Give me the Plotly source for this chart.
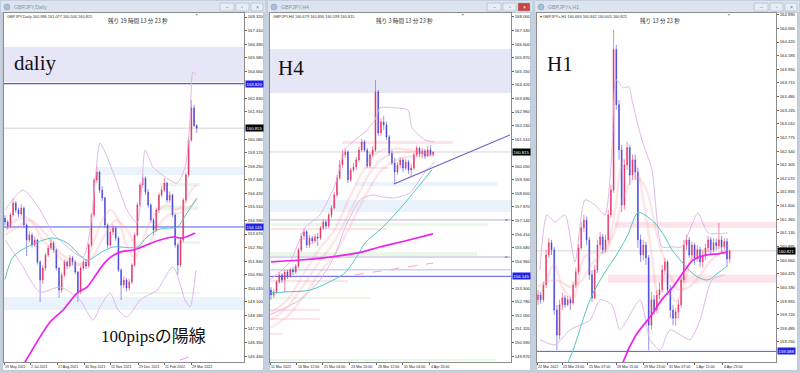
import plotly.graph_objects as go

# ======================= DATA =======================
# ---- Daily (GBPJPY,Daily) ----
daily_open = [154.75,154.48,154.21,154.95,155.76,155.29,155.02,155.42,154.28,153.26,
              153.60,152.93,153.26,151.78,150.56,151.37,152.25,152.72,153.06,152.59,
              151.37,149.89,150.90,151.78,151.51,152.05,151.78,151.10,149.75,151.37,
              151.78,151.51,152.93,154.95,157.31,157.85,156.64,156.10,154.28,152.93,
              153.80,154.07,153.40,151.24,150.23,150.56,150.02,150.43,151.58,153.60,
              155.63,156.98,157.45,156.50,155.63,154.61,153.94,155.29,156.30,156.64,
              157.11,155.96,156.30,154.95,152.93,151.58,153.26,155.96,157.65,160.02,
              162.18,160.99]
daily_high = [154.95,154.62,155.10,156.10,155.90,155.45,155.70,155.55,154.40,153.85,
              153.75,153.50,153.35,151.90,151.55,152.40,152.90,153.40,153.20,152.70,
              151.45,151.05,151.95,151.90,152.25,152.20,151.90,151.20,151.50,151.95,
              151.90,153.05,155.10,157.45,158.26,157.95,156.90,156.20,154.40,154.00,
              154.30,154.20,153.50,151.35,150.80,150.70,150.65,151.70,153.75,155.80,
              157.15,157.70,157.55,156.70,155.75,154.75,155.45,156.45,156.90,157.45,
              157.20,156.55,156.40,155.05,153.05,153.40,156.10,157.80,160.20,162.72,
              162.40,161.08]
daily_low = [154.25,153.98,154.10,154.85,155.10,154.80,154.90,154.10,152.18,153.10,
             152.75,152.80,151.60,149.08,150.30,151.20,152.10,152.60,152.40,151.20,
             149.35,149.70,150.75,151.30,151.40,151.55,150.95,149.08,149.60,151.20,
             151.30,151.40,152.80,154.80,157.10,156.45,155.90,154.10,152.70,152.80,
             153.60,153.20,151.10,149.21,150.00,149.80,149.85,150.30,151.45,153.50,
             155.50,156.80,156.30,155.45,154.45,153.60,153.80,155.10,156.15,156.50,
             155.80,155.80,154.80,152.75,150.90,151.45,153.10,155.80,157.50,159.90,
             160.90,160.50]
daily_close = [154.48,154.21,154.95,155.76,155.29,155.02,155.42,154.28,153.26,153.60,
               152.93,153.26,151.78,150.56,151.37,152.25,152.72,153.06,152.59,151.37,
               149.89,150.90,151.78,151.51,152.05,151.78,151.10,149.75,151.37,151.78,
               151.51,152.93,154.95,157.31,157.85,156.64,156.10,154.28,152.93,153.80,
               154.07,153.40,151.24,150.23,150.56,150.02,150.43,151.58,153.60,155.63,
               156.98,157.45,156.50,155.63,154.61,153.94,155.29,156.30,156.64,157.11,
               155.96,156.30,154.95,152.93,151.58,153.26,155.96,157.65,160.02,162.18,
               160.99,160.82]
daily_date_labels = ["19 May 2021", "2 Jul 2021", "17 Aug 2021", "30 Sep 2021",
                     "15 Nov 2021", "29 Dec 2021", "11 Feb 2022", "29 Mar 2022"]
daily_date_pos = [-0.37, 9.3, 19.3, 29.3, 38.9, 49.3, 58.9, 68.9]
daily_price_ticks = [168.320, 167.410, 166.490, 165.580, 164.660, 162.830, 161.910,
                     160.080, 159.170, 158.250, 157.340, 156.420, 155.510, 154.590,
                     153.670, 152.760, 151.840, 150.930, 150.010, 149.100, 148.180, 147.270,
                     146.350, 145.430]
daily_ma_slow_x = [5.5, 7.4, 16.7, 21.5, 26.7, 30.4, 34.1, 37.8, 42.6, 47.4, 56.3, 62.2, 65.6, 70.4]
daily_ma_slow_y = [144.50, 145.03, 147.73, 148.54, 149.68, 150.09, 151.03, 151.91, 152.45, 152.59,
                   153.20, 153.47, 153.40, 153.74]
daily_ma_mid_x = [0, 3.0, 8.1, 17.8, 23.0, 30.4, 35.2, 40.0, 48.9, 52.6, 56.3, 60.0, 63.7, 67.4, 71.1]
daily_ma_mid_y = [150.60, 152.12, 152.79, 153.40, 153.06, 151.91, 152.39, 152.79, 152.79, 153.47,
                  153.94, 154.07, 154.14, 155.09, 156.10]
daily_bb_up_x = [0, 6.7, 13, 17.8, 23, 28.9, 31.5, 33.3, 35.2, 37.8, 41.5, 45.2, 48.9, 50.7, 51.9,
                 54.8, 59.3, 63.7, 66.7, 68.5, 69.6, 70.7]
daily_bb_up_y = [155.29, 156.64, 155.29, 153.74, 152.79, 152.12, 153.94, 157.11, 159.81, 158.87,
                 157.11, 155.29, 154.41, 156.98, 159.34, 158.19, 157.52, 157.11, 158.19, 161.37,
                 164.61, 164.40]
daily_bb_lo_x = [0, 5.6, 13, 20.4, 27.8, 32.6, 35.2, 38.9, 41.9, 45.2, 50, 56.3, 62.2, 66.7, 68.5, 70.7]
daily_bb_lo_y = [153.26, 151.78, 149.75, 150.09, 149.21, 147.86, 148.74, 149.68, 148.54, 148.07,
                 149.21, 149.89, 151.44, 149.21, 148.74, 151.24]
daily_rib1_x = [0, 4, 7, 10, 14, 18, 22, 26, 30, 33, 36, 39, 42, 45, 48, 51, 54, 57, 60, 63, 66, 69, 71]
daily_rib1_y = [153.94, 154.61, 154.80, 154.48, 153.26, 152.59, 151.78, 151.58, 151.78, 153.26,
                154.61, 155.29, 154.61, 152.93, 152.05, 153.26, 154.61, 155.29, 155.63, 155.29,
                155.63, 156.64, 156.98]
daily_rib2_x = [0, 5, 9, 13, 17, 21, 25, 29, 33, 37, 41, 45, 49, 53, 57, 61, 65, 69, 71]
daily_rib2_y = [153.60, 154.20, 154.60, 154.10, 153.20, 152.30, 151.80, 151.60, 152.30, 153.60,
                154.60, 154.00, 152.80, 153.00, 154.30, 155.00, 155.10, 155.60, 156.00]

# ---- H4 (GBPJPY,H4) ----
h4_open = [153.41,153.15,153.31,153.84,154.22,153.95,154.38,154.17,154.49,154.38,
           154.70,155.56,156.31,156.53,155.83,156.20,156.04,156.26,156.20,156.74,
           157.06,156.85,157.44,157.81,158.51,159.42,160.12,160.66,160.82,159.32,
           159.85,160.01,160.39,160.92,161.35,160.92,160.07,160.66,160.92,164.04,
           161.84,162.43,162.27,161.62,160.76,160.23,159.74,160.12,160.39,159.96,
           160.28,159.85,159.96,160.66,161.03,160.71,160.87,160.60,160.92,160.68]
h4_high = [153.57,153.47,153.95,154.38,154.33,154.49,154.49,154.59,154.65,154.81,
           155.67,156.47,156.69,156.63,156.36,156.31,156.42,156.47,156.85,157.22,
           157.17,157.55,157.97,158.67,159.58,160.39,160.92,161.03,160.92,159.96,
           160.23,160.55,161.09,161.52,161.46,161.03,160.82,161.14,164.68,164.14,
           162.64,162.75,162.43,161.73,160.92,160.50,160.28,160.55,160.50,160.44,
           160.39,160.17,160.76,161.14,161.09,161.03,160.98,161.14,161.19,160.84]
h4_low = [152.88,152.98,153.20,153.74,153.79,153.31,154.00,154.06,154.22,154.27,
          154.59,155.45,156.10,155.67,155.67,155.88,155.94,155.77,156.10,156.63,
          156.69,156.74,157.28,157.71,158.40,159.32,159.96,160.50,159.15,159.21,
          159.74,159.85,160.28,160.82,160.82,159.96,159.96,160.55,160.82,161.68,
          161.68,162.00,161.46,160.60,160.12,159.15,159.58,159.96,159.74,159.85,
          159.64,159.48,159.85,160.55,160.55,160.50,160.44,160.55,160.60,160.60]
h4_close = [153.15,153.31,153.84,154.22,153.95,154.38,154.17,154.49,154.38,154.70,
            155.56,156.31,156.53,155.83,156.20,156.04,156.26,156.20,156.74,157.06,
            156.85,157.44,157.81,158.51,159.42,160.12,160.66,160.82,159.32,159.85,
            160.01,160.39,160.92,161.35,160.92,160.07,160.66,160.92,164.04,161.84,
            162.43,162.27,161.62,160.76,160.23,159.74,160.12,160.39,159.96,160.28,
            159.85,159.96,160.66,161.03,160.71,160.87,160.60,160.92,160.68,160.82]
h4_date_labels = ["11 Mar 2022", "16 Mar 12:00", "21 Mar 04:00", "23 Mar 20:00",
                  "28 Mar 12:00", "31 Mar 04:00", "4 Apr 20:00"]
h4_date_pos = [-0.36, 9.45, 18.9, 28.7, 38.5, 48.0, 57.8]
h4_price_ticks = [168.060, 167.330, 166.600, 165.870, 165.150, 164.420, 163.690, 162.960,
                  162.240, 161.510, 160.050, 159.330, 158.600, 157.870, 157.140,
                  156.410, 155.680, 154.960, 153.500, 152.780, 152.050, 151.320,
                  150.590, 149.870]
h4_ma_slow_x = [0, 10.5, 21.5, 31.6, 39.6, 48.7, 58.9]
h4_ma_slow_y = [154.92, 155.02, 155.18, 155.40, 155.72, 156.04, 156.42]
h4_ma_mid_x = [0, 5.1, 14.2, 23.3, 26.9, 31.6, 34.2, 40.4, 48.7, 58.5]
h4_ma_mid_y = [153.25, 153.31, 153.41, 154.00, 154.33, 155.29, 155.94, 156.74, 158.08, 159.85]
h4_bb_up_x = [-0.4, 6.9, 12.4, 17.8, 23.3, 26.9, 30.5, 34.2, 37.8, 39.6, 45.1, 49.8, 51.3, 56, 59.6]
h4_bb_up_y = [153.95, 154.92, 156.74, 157.44, 159.05, 160.92, 161.46, 161.89, 162.53, 163.18,
              163.18, 163.07, 162.10, 161.46, 161.35]
h4_bb_lo_x = [-0.4, 10.5, 17.8, 23.3, 26.9, 32.4, 36.7, 40.7, 45.1, 50.5, 56, 59.6]
h4_bb_lo_y = [152.07, 152.88, 153.95, 155.29, 156.74, 158.24, 158.51, 158.40, 158.35, 158.62,
              159.74, 160.28]
h4_rib_x = [0, 6, 12, 18, 23, 28, 32, 36, 40, 46, 52, 59]
h4_rib1_y = [152.2, 152.9, 154.3, 155.7, 156.6, 158.2, 159.4, 160.4, 160.9, 161.0, 160.9, 160.7]
h4_rib2_y = [151.8, 152.5, 153.7, 155.0, 156.0, 157.4, 158.6, 159.7, 160.4, 160.8, 160.8, 160.7]
h4_rib3_y = [151.4, 152.0, 153.1, 154.4, 155.3, 156.6, 157.8, 158.9, 159.8, 160.4, 160.6, 160.6]
h4_trend_x = [44.7, 86.9]
h4_trend_y = [159.10, 161.73]

# ---- H1 (GBPJPYs,H1) ----
h1_open = [159.98,160.06,159.98,160.23,160.75,160.96,160.84,159.80,159.37,159.89,
           160.01,159.89,159.98,159.92,160.23,160.46,160.87,161.22,161.35,161.01,
           160.41,160.01,160.49,160.92,161.06,160.84,161.01,161.44,161.87,164.29,
           163.34,162.56,161.61,162.30,162.60,162.13,162.39,162.18,161.01,160.75,
           160.92,160.70,159.54,159.98,159.80,160.06,160.15,160.49,160.63,160.15,
           159.80,159.66,159.77,159.89,160.32,160.92,161.01,160.75,160.92,160.70,
           160.84,160.63,160.75,160.87,161.01,160.84,160.96,160.91,161.01,160.89,
           160.98,160.68]
h1_high = [160.15,160.11,160.29,160.84,161.04,161.01,160.89,159.89,159.98,160.10,
           160.06,160.04,160.03,160.29,160.53,160.94,161.32,161.44,161.41,161.06,
           160.49,160.58,161.01,161.15,161.11,161.10,161.53,161.96,164.63,164.37,
           163.42,162.65,162.39,162.70,162.65,162.48,162.48,162.25,161.10,161.01,
           160.98,160.75,160.11,160.06,160.15,160.27,160.58,160.70,160.66,160.23,
           159.89,159.84,159.98,160.39,161.01,161.10,161.06,160.98,160.96,160.92,
           160.89,160.84,160.94,161.08,161.06,161.04,161.03,161.30,161.08,161.04,
           161.04,160.84]
h1_low = [159.89,159.91,159.94,160.18,160.70,160.75,159.72,159.11,159.29,159.80,
          159.84,159.87,159.80,159.89,160.18,160.41,160.84,161.15,160.92,160.32,
          159.94,159.98,160.44,160.84,160.77,160.79,160.96,161.39,161.82,163.25,
          162.39,161.49,161.53,162.22,161.96,162.04,162.04,160.87,160.63,160.66,
          160.58,159.11,159.46,159.72,159.75,159.98,160.10,160.41,160.06,159.66,
          159.54,159.53,159.66,159.84,160.27,160.84,160.70,160.66,160.58,160.63,
          160.54,160.53,160.66,160.80,160.77,160.80,160.84,160.85,160.80,160.84,
          160.54,160.61]
h1_close = [160.06,159.98,160.23,160.75,160.96,160.84,159.80,159.37,159.89,160.01,
            159.89,159.98,159.92,160.23,160.46,160.87,161.22,161.35,161.01,160.41,
            160.01,160.49,160.92,161.06,160.84,161.01,161.44,161.87,164.29,163.34,
            162.56,161.61,162.30,162.60,162.13,162.39,162.18,161.01,160.75,160.92,
            160.70,159.54,159.98,159.80,160.06,160.15,160.49,160.63,160.15,159.80,
            159.66,159.77,159.89,160.32,160.92,161.01,160.75,160.92,160.70,160.84,
            160.63,160.75,160.87,161.01,160.84,160.96,160.91,161.01,160.89,160.98,
            160.68,160.82]
h1_date_labels = ["22 Mar 2022", "23 Mar 23:00", "25 Mar 07:00", "28 Mar 15:00",
                  "29 Mar 23:00", "31 Mar 07:00", "1 Apr 15:00", "4 Apr 23:00"]
h1_date_pos = [-0.37, 8.9, 18.5, 28.9, 38.9, 48.1, 58.1, 68.5]
h1_price_ticks = [164.890, 164.655, 164.420, 164.185, 163.950, 163.715, 163.480, 163.245,
                  163.010, 162.775, 162.540, 162.305, 162.070, 161.835, 161.600, 161.365,
                  161.130, 160.895, 160.660, 160.425, 160.190, 159.955, 159.720, 159.485,
                  159.250]
h1_ma_slow_x = [30.0, 31.5, 36.3, 41.5, 45.9, 50, 54.4, 57.4, 62.6, 66.7, 70]
h1_ma_slow_y = [158.60, 158.90, 159.37, 159.68, 159.98, 160.20, 160.49, 160.66, 160.75, 160.77, 160.80]
h1_ma_mid_x = [11.1, 13, 19.3, 23.7, 29.6, 33.3, 37, 39.6, 43.3, 47, 49.6, 53.3, 57, 60, 63, 66.7, 70]
h1_ma_mid_y = [158.90, 159.11, 159.98, 160.37, 160.79, 161.10, 161.48, 161.44, 161.30, 161.06,
               160.84, 160.63, 160.44, 160.35, 160.32, 160.44, 160.56]
h1_bb_up_x = [0.7, 3.3, 6.3, 10, 13.7, 17.4, 21.1, 24.8, 27.4, 28.9, 31.5, 33.7, 34.8, 38.5, 42.2,
              45.9, 49.6, 53.3, 59.2, 63, 70.4]
h1_bb_up_y = [160.49, 161.44, 161.32, 161.44, 160.63, 161.70, 161.61, 161.44, 162.56, 163.77,
              163.63, 163.65, 163.42, 162.73, 162.22, 160.89, 160.89, 160.89, 161.47, 161.13, 161.13]
h1_bb_lo_x = [0.7, 6.3, 11.9, 19.3, 23, 27.4, 30.4, 37.8, 41.5, 45.2, 48.9, 56.3, 60, 64.4, 69.3]
h1_bb_lo_y = [159.29, 159.20, 159.46, 159.63, 159.98, 159.89, 159.46, 159.98, 159.29, 159.11,
              159.46, 159.29, 159.63, 160.32, 160.41]
h1_rib1_x = [0, 3, 6, 9, 13, 17, 21, 25, 28.5, 32, 36, 39, 42, 45, 48, 51, 54, 57, 61, 65, 69, 71]
h1_rib1_y = [160.0, 160.3, 160.6, 160.2, 160.0, 160.7, 160.8, 160.8, 161.5, 162.4, 162.3, 161.7,
             160.8, 160.0, 160.1, 159.95, 160.2, 160.7, 160.8, 160.85, 160.9, 160.9]
h1_rib2_x = [0, 4, 8, 12, 16, 20, 24, 28, 32, 36, 40, 44, 48, 52, 56, 60, 64, 68, 71]
h1_rib2_y = [160.2, 160.3, 160.3, 160.2, 160.3, 160.6, 160.8, 161.1, 161.8, 162.1, 161.9, 161.1,
             160.5, 160.15, 160.2, 160.4, 160.65, 160.8, 160.85]

# ======================= STYLE / LAYOUT =======================
FW, FH = 800, 373
def fx(p): return p / FW
def fy(p): return 1 - p / FH

RED = "#e52a5e"
BLUE = "#3d3ddf"
MAGENTA = "#f020f0"
TEAL = "#52c8bd"
PLUM = "#dcb0e6"
RIB = "rgba(250,140,150,0.22)"
LAV = "#e6e6f7"
LBLUE = "#eaf3fc"
LGREEN = "#e9f7e9"
LPINK = "#fde3ea"
HBLUE = "#5555ee"
TICKF = dict(family="Liberation Sans", size=4.2, color="#222")
DATEF = dict(family="Liberation Sans", size=3.6, color="#222")

fig = go.Figure()
shapes = []
annotations = []

def rect_px(x0, y0, x1, y1, fill, line=None, lw=0):
    shapes.append(dict(type="rect", xref="paper", yref="paper", x0=fx(x0), x1=fx(x1),
                       y0=fy(y1), y1=fy(y0), fillcolor=fill,
                       line=dict(color=line or fill, width=lw), layer="below"))

def text_px(x, y, t, size, color="#222", anchor="left", family="Liberation Sans", **kw):
    annotations.append(dict(xref="paper", yref="paper", x=fx(x), y=fy(y), text=t,
                            showarrow=False, xanchor=anchor, yanchor="middle",
                            font=dict(family=family, size=size, color=color), **kw))

# ---- window chrome ----
def window(x0, x1, title, red_close):
    rect_px(x0, 0, x1, FH, "#c4d0dd")
    rect_px(x0 + 1, 1, x1 - 1, 12, "#dce5ef")
    rect_px(x0 + 2.5, 12.5, x1 - 2.5, 370.5, "white", "#a9b5c3", 0.6)
    for i, (b0, b1) in enumerate([(x1 - 46, x1 - 32), (x1 - 30, x1 - 17), (x1 - 15, x1 - 3)]):
        col = "#c8463c" if (red_close and i == 2) else "#e6edf5"
        rect_px(b0, 3, b1, 11, col, "#9aa8b8", 0.5)
        text_px((b0 + b1) / 2, 7, ["–", "▫", "×"][i], 5,
                "white" if (red_close and i == 2) else "#6a7888", anchor="center")
    shapes.append(dict(type="circle", xref="paper", yref="paper", x0=fx(x0 + 4), x1=fx(x0 + 10),
                       y0=fy(10), y1=fy(4), fillcolor="#a9bfd8", line=dict(color="#7d97b5", width=0.5),
                       layer="below"))
    text_px(x0 + 12, 6.5, title, 5.2, "#8593a4")

window(0, 266, "GBPJPY,Daily", False)
window(267, 533, "GBPJPY,H4", True)
window(534, 800, "GBPJPYs,H1", False)

panels = [
    dict(xa="x", ya="y", px0=4, px1=244, xr=[-0.37, 88.5], yr=[145.03, 168.59],
         o=daily_open, h=daily_high, l=daily_low, c=daily_close,
         ticks=daily_price_ticks, dl=daily_date_labels, dp=daily_date_pos),
    dict(xa="x2", ya="y2", px0=270, px1=511, xr=[-0.36, 87.3], yr=[149.55, 168.27],
         o=h4_open, h=h4_high, l=h4_low, c=h4_close,
         ticks=h4_price_ticks, dl=h4_date_labels, dp=h4_date_pos),
    dict(xa="x3", ya="y3", px0=537, px1=776, xr=[-0.37, 88.15], yr=[158.905, 164.92],
         o=h1_open, h=h1_high, l=h1_low, c=h1_close,
         ticks=h1_price_ticks, dl=h1_date_labels, dp=h1_date_pos),
]

def line(p, xs, ys, color, width, dash="solid", smooth=0.9):
    fig.add_trace(go.Scatter(x=xs, y=ys, mode="lines", xaxis=p["xa"], yaxis=p["ya"],
                             line=dict(color=color, width=width, dash=dash, shape="spline",
                                       smoothing=smooth),
                             hoverinfo="skip", showlegend=False))

def zone(p, f0, f1, y0, y1, color):
    shapes.append(dict(type="rect", xref=p["xa"] + " domain", yref=p["ya"], x0=f0, x1=f1,
                       y0=y0, y1=y1, fillcolor=color, line=dict(width=0), layer="below"))

def hline(p, y, color, width, f0=0, f1=1, dash="solid"):
    shapes.append(dict(type="line", xref=p["xa"] + " domain", yref=p["ya"], x0=f0, x1=f1,
                       y0=y, y1=y, line=dict(color=color, width=width, dash=dash), layer="below"))

def price_box(p, y, t, bg):
    annotations.append(dict(xref="paper", yref=p["ya"], x=fx(p["px1"] + 1), y=y, text=t,
                            showarrow=False, xanchor="left", yanchor="middle", bgcolor=bg,
                            borderpad=0.6, font=dict(family="Liberation Sans", size=4.2, color="white")))

D, H4, H1 = panels

# ---- zones and levels ----
zone(D, 0, 1, 163.93, 166.29, LAV)
zone(D, 0.3875, 1, 157.65, 158.19, LBLUE)
zone(D, 0, 1, 148.54, 149.41, LBLUE)
zone(D, 0.65, 0.817, 156.90, 157.11, LGREEN)
zone(D, 0.65, 0.81, 155.29, 155.56, LGREEN)
zone(D, 0.72, 0.817, 153.00, 153.20, LGREEN)
zone(D, 0.525, 0.817, 149.62, 149.75, LGREEN)
hline(D, 163.82, HBLUE, 1.2)
hline(D, 160.815, "#c9c9c9", 0.8)
hline(D, 154.145, HBLUE, 1.0)

zone(H4, 0, 1, 163.98, 166.34, LAV)
zone(H4, 0.299, 0.759, 161.25, 161.41, LPINK)
zone(H4, 0.394, 0.49, 159.90, 160.01, LPINK)
zone(H4, 0.353, 0.942, 158.99, 159.21, LBLUE)
zone(H4, 0, 1, 157.60, 158.24, LBLUE)
zone(H4, 0.004, 0.905, 156.85, 157.01, LGREEN)
zone(H4, 0.004, 0.485, 156.63, 156.74, LPINK)
zone(H4, 0, 0.859, 155.24, 155.45, LGREEN)
zone(H4, 0, 0.324, 153.84, 153.95, LPINK)
zone(H4, 0, 0.415, 152.93, 153.04, LGREEN)
zone(H4, 0, 0.207, 152.28, 152.39, LPINK)
zone(H4, 0, 0.207, 151.80, 151.91, LPINK)
zone(H4, 0, 0.05, 151.00, 151.11, LPINK)
zone(H4, 0, 0.942, 149.60, 149.71, LGREEN)
hline(H4, 160.815, "#c9c9c9", 0.8)
hline(H4, 157.17, "#a9a9cf", 0.9)
hline(H4, 155.18, "#a9a9cf", 0.9)
hline(H4, 154.49, "#b4b4ea", 0.9)
hline(H4, 154.145, HBLUE, 1.0)
hline(H4, 157.17, "#6d6dc0", 1.0, 0.975, 0.995, "dot")
hline(H4, 155.18, "#6d6dc0", 1.0, 0.975, 0.995, "dot")

zone(H1, 0.326, 1, 161.22, 161.32, LPINK)
zone(H1, 0.297, 1, 160.27, 160.41, LPINK)
hline(H1, 160.821, "#c9c9c9", 0.8)
hline(H1, 159.088, HBLUE, 1.0)

# ---- ribbons (under candles) ----
line(D, daily_rib1_x, daily_rib1_y, RIB, 2.5)
line(D, daily_rib2_x, daily_rib2_y, RIB, 2.5)
line(H4, h4_rib_x, h4_rib1_y, RIB, 2.5)
line(H4, h4_rib_x, h4_rib2_y, RIB, 2.5)
line(H4, h4_rib_x, h4_rib3_y, RIB, 2.5)
line(H1, h1_rib1_x, h1_rib1_y, RIB, 2.5)
line(H1, h1_rib2_x, h1_rib2_y, RIB, 2.5)

# ---- candles ----
for p in panels:
    fig.add_trace(go.Candlestick(
        x=list(range(len(p["c"]))), open=p["o"], high=p["h"], low=p["l"], close=p["c"],
        xaxis=p["xa"], yaxis=p["ya"], whiskerwidth=0,
        increasing=dict(line=dict(color=RED, width=0.55), fillcolor=RED),
        decreasing=dict(line=dict(color=BLUE, width=0.55), fillcolor=BLUE),
        hoverinfo="skip", showlegend=False))

# ---- indicator lines ----
line(D, daily_bb_up_x, daily_bb_up_y, PLUM, 0.9, smooth=0.7)
line(D, daily_bb_lo_x, daily_bb_lo_y, PLUM, 0.9, smooth=0.7)
line(D, daily_ma_mid_x, daily_ma_mid_y, TEAL, 1.0)
line(D, daily_ma_slow_x, daily_ma_slow_y, MAGENTA, 1.7)
line(H4, h4_bb_up_x, h4_bb_up_y, PLUM, 0.9, smooth=0.6)
line(H4, h4_bb_lo_x, h4_bb_lo_y, PLUM, 0.9, smooth=0.6)
line(H4, h4_ma_mid_x, h4_ma_mid_y, TEAL, 1.0)
line(H4, h4_ma_slow_x, h4_ma_slow_y, MAGENTA, 1.7)
line(H1, h1_bb_up_x, h1_bb_up_y, PLUM, 0.9, smooth=0.6)
line(H1, h1_bb_lo_x, h1_bb_lo_y, PLUM, 0.9, smooth=0.6)
line(H1, h1_ma_mid_x, h1_ma_mid_y, TEAL, 1.0)
line(H1, h1_ma_slow_x, h1_ma_slow_y, MAGENTA, 1.7)

# drawn objects
shapes.append(dict(type="line", xref="x2", yref="y2", x0=h4_trend_x[0], x1=h4_trend_x[1],
                   y0=h4_trend_y[0], y1=h4_trend_y[1], line=dict(color="#6464cc", width=1.2)))
shapes.append(dict(type="line", xref="x2", yref="y2", x0=30.5, x1=59, y0=154.22, y1=154.86,
                   line=dict(color="#f2a6c8", width=1, dash="dash")))
shapes.append(dict(type="line", xref="x", yref="y", x0=64.8, x1=70.4, y0=145.16, y1=145.5,
                   line=dict(color="#f090f0", width=1, dash="dash")))

# ---- axes ----
layout = dict(width=FW, height=FH, margin=dict(l=0, r=0, t=0, b=0), showlegend=False,
              paper_bgcolor="#c4d0dd", plot_bgcolor="white", boxgap=0.55)
for k, p in enumerate(panels):
    sfx = "" if k == 0 else str(k + 1)
    layout["xaxis" + sfx] = dict(domain=[fx(p["px0"]), fx(p["px1"])], range=p["xr"],
                                 anchor=p["ya"], showgrid=False, zeroline=False,
                                 showline=True, linecolor="#8c8c8c", linewidth=0.8, mirror=True,
                                 ticks="outside", ticklen=2, tickcolor="#666",
                                 tickvals=p["dp"], showticklabels=False,
                                 rangeslider=dict(visible=False), fixedrange=True)
    layout["yaxis" + sfx] = dict(domain=[fy(362), fy(13)], range=p["yr"], anchor=p["xa"],
                                 side="right", showgrid=False, zeroline=False,
                                 showline=True, linecolor="#8c8c8c", linewidth=0.8, mirror=True,
                                 ticks="outside", ticklen=2, tickcolor="#666",
                                 tickvals=p["ticks"], ticktext=[f"{v:.3f}" for v in p["ticks"]],
                                 tickfont=TICKF, fixedrange=True)
    for lab, pos in zip(p["dl"], p["dp"]):
        annotations.append(dict(xref=p["xa"], yref="paper", x=pos, y=fy(366.5), text=lab,
                                showarrow=False, xanchor="left", yanchor="middle",
                                font=DATEF, borderpad=0))

# price boxes on the price scale
price_box(D, 163.82, "163.820", "#2323e6")
price_box(D, 160.815, "160.815", "#000000")
price_box(D, 154.145, "154.145", "#2323e6")
price_box(H4, 160.815, "160.815", "#000000")
price_box(H4, 154.145, "154.145", "#2323e6")
price_box(H1, 160.821, "160.821", "#000000")
price_box(H1, 159.088, "159.088", "#2323e6")

# ---- chart texts ----
text_px(5, 16.5, "GBPJPY,Daily 160.986 161.077 160.504 160.815", 3.9, "#333")
text_px(271, 16.5, "GBPJPY,H4 160.679 160.836 160.599 160.815", 3.9, "#333")
text_px(538, 16.5, "▾ GBPJPYs,H1 160.684 160.842 160.605 160.821", 3.9, "#333")
cjk = "Noto Sans CJK JP"
text_px(138, 20.5, "残り 19 時間 13 分 23 秒", 5.6, "#333", anchor="center", family=cjk)
text_px(404, 20.5, "残り 3 時間 13 分 23 秒", 5.6, "#333", anchor="center", family=cjk)
text_px(660, 20.5, "残り 13 分 23 秒", 5.6, "#333", anchor="center", family=cjk)
for xm in (196, 462, 728):
    text_px(xm, 14.5, "▼", 3.5, "#7d8ea6", anchor="center")

serif = "Liberation Serif, Noto Sans CJK JP"
text_px(12, 63, "daliy", 21, "#111", family=serif)
text_px(276, 68, "H4", 21, "#111", family=serif)
text_px(545, 64, "H1", 21, "#111", family=serif)
text_px(99, 336, "100pipsの陽線", 17, "#111", family=serif)

layout["shapes"] = shapes
layout["annotations"] = annotations
fig.update_layout(**layout)
fig.write_html("out.html", config={"displayModeBar": False})
